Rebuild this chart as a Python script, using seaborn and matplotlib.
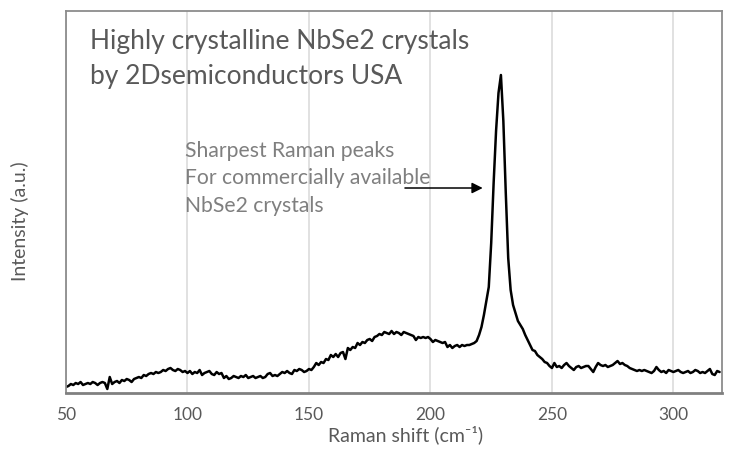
import numpy as np
import pandas as pd
import matplotlib
matplotlib.use("Agg")
import matplotlib.pyplot as plt
import seaborn as sns
from matplotlib.ticker import MultipleLocator

# Raman spectrum, one value per cm-1 (50..319)
raman_shift = np.arange(50, 320, 1)
intensity = [
    6, 7, 9, 8, 10, 9, 11, 8, 9, 10,
    9, 11, 10, 8, 10, 11, 10, 4, 16, 9,
    11, 12, 10, 13, 12, 14, 13, 11, 14, 15,
    16, 15, 18, 17, 19, 20, 19, 21, 20, 21,
    23, 22, 24, 25, 23, 22, 24, 23, 21, 22,
    20, 22, 19, 21, 20, 23, 18, 20, 21, 22,
    19, 18, 21, 19, 20, 15, 17, 14, 15, 17,
    16, 15, 17, 16, 18, 15, 16, 17, 15, 16,
    17, 15, 16, 19, 20, 17, 18, 17, 19, 21,
    20, 22, 20, 19, 23, 22, 24, 23, 21, 22,
    24, 23, 26, 30, 28, 31, 30, 34, 33, 38,
    36, 39, 36, 40, 41, 34, 45, 43, 46, 45,
    50, 48, 51, 50, 53, 54, 52, 56, 57, 59,
    58, 61, 60, 59, 62, 59, 61, 60, 58, 61,
    60, 59, 58, 57, 53, 56, 55, 56, 55, 56,
    54, 51, 53, 52, 51, 50, 51, 46, 48, 45,
    47, 48, 46, 48, 47, 48, 48, 49, 50, 52,
    58, 66, 78, 92, 106, 150, 210, 262, 300, 318,
    272, 200, 135, 103, 88, 80, 72, 68, 64, 58,
    53, 48, 43, 42, 38, 36, 34, 31, 30, 27,
    25, 30, 26, 27, 25, 28, 30, 27, 25, 23,
    26, 27, 25, 26, 27, 27, 24, 21, 26, 30,
    28, 27, 28, 26, 27, 28, 30, 32, 29, 30,
    28, 27, 25, 24, 23, 22, 23, 22, 23, 22,
    21, 20, 22, 26, 23, 21, 22, 20, 23, 22,
    21, 22, 23, 21, 20, 21, 22, 20, 21, 23,
    22, 20, 21, 20, 22, 24, 19, 18, 22, 21,
]
x_ticks = [50, 100, 150, 200, 250, 300]

title_lines = ["Highly crystalline NbSe2 crystals", "by 2Dsemiconductors USA"]
note_lines = ["Sharpest Raman peaks", "For commercially available", "NbSe2 crystals"]

df = pd.DataFrame({"shift": raman_shift, "intensity": intensity})

sns.set_theme(style="white")
plt.rcParams["font.family"] = ["Lato", "DejaVu Sans"]

fig = plt.figure(figsize=(7.5, 4.49), dpi=100)
ax = fig.add_axes([0.088, 0.1247, 0.8747, 0.8508])

sns.lineplot(data=df, x="shift", y="intensity", color="black", linewidth=1.8, ax=ax)

ax.set_xlim(50, 320)
ax.set_ylim(0, 382)
ax.set_xticks(x_ticks)
ax.xaxis.set_minor_locator(MultipleLocator(10))
ax.set_yticks([])
ax.grid(axis="x", color="#d9d9d9", linewidth=1.1)
ax.set_axisbelow(True)

for side in ["top", "left", "right"]:
    ax.spines[side].set_color("#8c8c8c")
    ax.spines[side].set_linewidth(1.3)
ax.spines["bottom"].set_color("#808080")
ax.spines["bottom"].set_linewidth(2.0)

ax.tick_params(axis="x", which="both", direction="in", length=4, width=1.2,
               color="#808080", labelsize=12.5, labelcolor="#595959", pad=10)

ax.set_xlabel("Raman shift (cm\u207b\u00b9)", fontsize=14, color="#595959")
ax.xaxis.set_label_coords(0.517, -0.085)
ax.set_ylabel("Intensity (a.u.)", fontsize=14, color="#595959")
ax.yaxis.set_label_coords(-0.056, 0.45)

# title text box inside the plot
for i, line in enumerate(title_lines):
    ax.text(0.037, 0.9 - i * 0.092, line, transform=ax.transAxes,
            fontsize=19, color="#595959", va="baseline", ha="left")

# annotation with arrow pointing at the peak
for i, line in enumerate(note_lines):
    ax.text(0.182, 0.618 - i * 0.0715, line, transform=ax.transAxes,
            fontsize=15.2, color="#7f7f7f", va="baseline", ha="left")
ax.annotate("", xy=(221.5, 205), xytext=(189.5, 205),
            arrowprops=dict(arrowstyle="-|>", color="black", lw=1.1,
                            mutation_scale=16, shrinkA=0, shrinkB=0))

fig.savefig("out.png", dpi=100)
